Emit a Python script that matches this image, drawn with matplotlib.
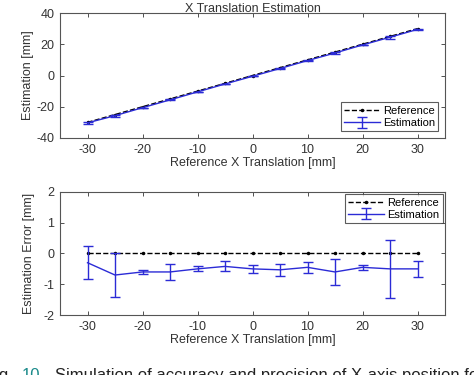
import numpy as np
import matplotlib.pyplot as plt

plt.rcParams['font.family'] = ['Liberation Sans', 'DejaVu Sans']
plt.rcParams['axes.unicode_minus'] = False

# Referenzpositionen und Schaetzfehler ablesen
x_ref = [-30, -25, -20, -15, -10, -5, 0, 5, 10, 15, 20, 25, 30]
err_mean = [-0.30, -0.70, -0.60, -0.60, -0.50, -0.42, -0.50, -0.53, -0.45, -0.60, -0.45, -0.50, -0.50]
err_std = [0.53, 0.73, 0.07, 0.25, 0.08, 0.16, 0.12, 0.20, 0.17, 0.41, 0.09, 0.95, 0.26]

est = np.asarray(x_ref) + np.asarray(err_mean)
zero = np.zeros(len(x_ref))

txt = '#333333'
blue = '#2b2bd6'

fig = plt.figure(figsize=(4.74, 3.75), dpi=100)
ax1 = fig.add_axes([60/474, 1-138/375, 385/474, 125/375])
ax2 = fig.add_axes([60/474, 1-315/375, 385/474, 123/375])

# oben: Schaetzung gegen Referenz
ax1.plot(x_ref, x_ref, '--', color='k', marker='.', markersize=3, lw=1, label='Reference')
ax1.errorbar(x_ref, est, yerr=err_std, color=blue, lw=1, capsize=3.5, label='Estimation')
ax1.set_xlim(-35, 35)
ax1.set_ylim(-40, 40)
ax1.set_yticks([-40, -20, 0, 20, 40])
ax1.set_xticks(range(-30, 31, 10))
ax1.set_title('X Translation Estimation', fontsize=9, color=txt, pad=1)
ax1.set_xlabel('Reference X Translation [mm]', fontsize=9, color=txt, labelpad=1)
ax1.set_ylabel('Estimation [mm]', fontsize=9, color=txt, labelpad=2)
ax1.legend(loc='lower right', fontsize=8, fancybox=False, edgecolor='#333333',
           borderpad=0.3, handlelength=3.2, labelspacing=0.2, handletextpad=0.3,
           borderaxespad=0.6).get_frame().set_linewidth(0.8)

# unten: Fehler
ax2.plot(x_ref, zero, '--', color='k', marker='.', markersize=3, lw=1, label='Reference')
ax2.errorbar(x_ref, err_mean, yerr=err_std, color=blue, lw=1, capsize=3.5, label='Estimation')
ax2.set_xlim(-35, 35)
ax2.set_ylim(-2, 2)
ax2.set_yticks([-2, -1, 0, 1, 2])
ax2.set_xticks(range(-30, 31, 10))
ax2.set_xlabel('Reference X Translation [mm]', fontsize=9, color=txt, labelpad=1)
ax2.set_ylabel('Estimation Error [mm]', fontsize=9, color=txt, labelpad=6)
ax2.legend(loc='upper right', fontsize=8, fancybox=False, edgecolor='#333333',
           borderpad=0.3, handlelength=3.2, labelspacing=0.2, handletextpad=0.3,
           borderaxespad=0.2).get_frame().set_linewidth(0.8)

for ax in (ax1, ax2):
    ax.tick_params(direction='in', top=True, right=True, labelsize=9,
                   colors=txt, length=3, width=0.6, pad=4)
    for s in ax.spines.values():
        s.set_color('#555555')
        s.set_linewidth(0.8)

# abgeschnittene Bildunterschrift
cap_y = 7/375
fig.text(13/474, cap_y, 'Fig.', fontsize=12, va='top', ha='right', color='#222222')
fig.text(22/474, cap_y, '10', fontsize=12, va='top', ha='left', color='#1a8a8a')
fig.text(55/474, cap_y, 'Simulation of accuracy and precision of X-axis position for',
         fontsize=12, va='top', ha='left', color='#222222')

fig.savefig('out.png', dpi=100)
